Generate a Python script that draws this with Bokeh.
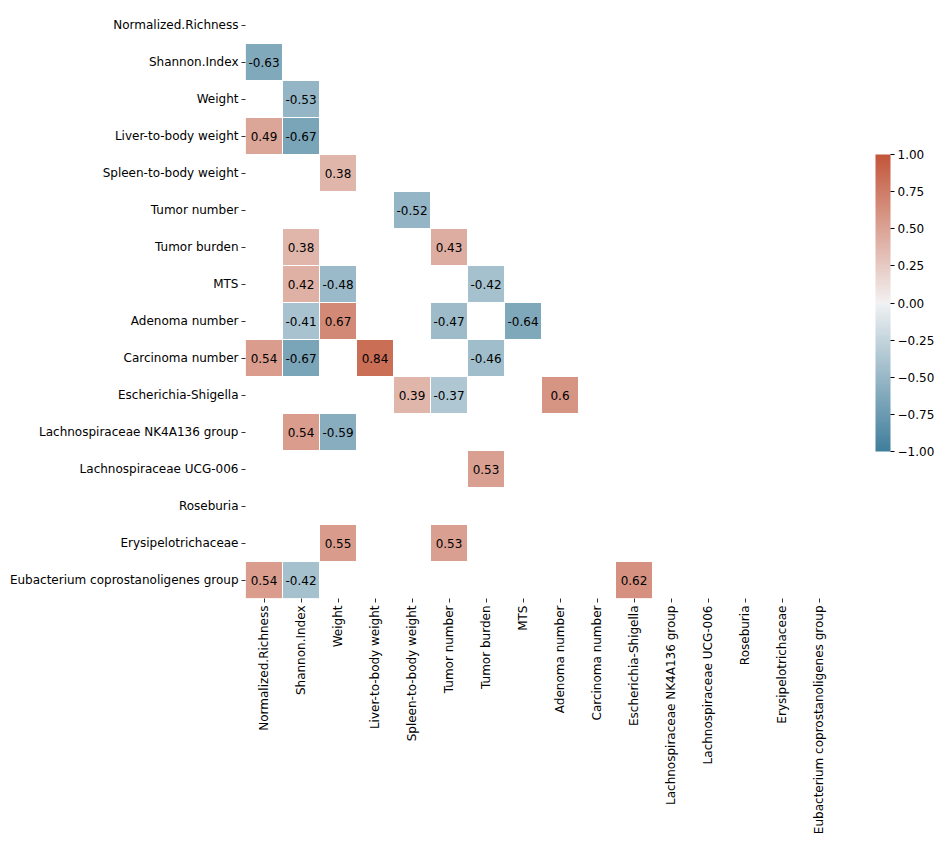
import math
from bokeh.plotting import figure
from bokeh.models import (ColumnDataSource, LinearColorMapper, ColorBar, FixedTicker,
                          CustomJSTickFormatter, FactorRange)
from bokeh.transform import transform
from bokeh.embed import file_html
from bokeh.resources import INLINE
from bokeh.core.properties import value

variables = ["Normalized.Richness", "Shannon.Index", "Weight", "Liver-to-body weight",
             "Spleen-to-body weight", "Tumor number", "Tumor burden", "MTS",
             "Adenoma number", "Carcinoma number", "Escherichia-Shigella",
             "Lachnospiraceae NK4A136 group", "Lachnospiraceae UCG-006", "Roseburia",
             "Erysipelotrichaceae", "Eubacterium coprostanoligenes group"]

cell_rows = ["Shannon.Index", "Weight", "Liver-to-body weight", "Liver-to-body weight",
             "Spleen-to-body weight", "Tumor number", "Tumor burden", "Tumor burden",
             "MTS", "MTS", "MTS",
             "Adenoma number", "Adenoma number", "Adenoma number", "Adenoma number",
             "Carcinoma number", "Carcinoma number", "Carcinoma number", "Carcinoma number",
             "Escherichia-Shigella", "Escherichia-Shigella", "Escherichia-Shigella",
             "Lachnospiraceae NK4A136 group", "Lachnospiraceae NK4A136 group",
             "Lachnospiraceae UCG-006",
             "Erysipelotrichaceae", "Erysipelotrichaceae",
             "Eubacterium coprostanoligenes group", "Eubacterium coprostanoligenes group",
             "Eubacterium coprostanoligenes group"]
cell_cols = ["Normalized.Richness", "Shannon.Index", "Normalized.Richness", "Shannon.Index",
             "Weight", "Spleen-to-body weight", "Shannon.Index", "Tumor number",
             "Shannon.Index", "Weight", "Tumor burden",
             "Shannon.Index", "Weight", "Tumor number", "MTS",
             "Normalized.Richness", "Shannon.Index", "Liver-to-body weight", "Tumor burden",
             "Spleen-to-body weight", "Tumor number", "Adenoma number",
             "Shannon.Index", "Weight",
             "Tumor burden",
             "Weight", "Tumor number",
             "Normalized.Richness", "Shannon.Index", "Escherichia-Shigella"]
cell_values = [-0.63, -0.53, 0.49, -0.67,
               0.38, -0.52, 0.38, 0.43,
               0.42, -0.48, -0.42,
               -0.41, 0.67, -0.47, -0.64,
               0.54, -0.67, 0.84, -0.46,
               0.39, -0.37, 0.60,
               0.54, -0.59,
               0.53,
               0.55, 0.53,
               0.54, -0.42, 0.62]

colorbar_ticks = [-1.0, -0.75, -0.5, -0.25, 0.0, 0.25, 0.5, 0.75, 1.0]

# ---- husl -> rgb (seaborn diverging_palette(230, 20)) ----
M = [[3.2406, -1.5372, -0.4986], [-0.9689, 1.8758, 0.0415], [0.0557, -0.2040, 1.0570]]
REF_U, REF_V, LAB_E, LAB_K = 0.19784, 0.46834, 0.008856, 903.3


def max_chroma(L, H):
    hrad = math.radians(H)
    sinH, cosH = math.sin(hrad), math.cos(hrad)
    sub1 = (L + 16) ** 3 / 1560896.0
    sub2 = sub1 if sub1 > LAB_E else L / LAB_K
    result = float("inf")
    for m1, m2, m3 in M:
        top = (0.99915 * m1 + 1.05122 * m2 + 1.14460 * m3) * sub2
        rbottom = 0.86330 * m3 - 0.17266 * m2
        lbottom = 0.12949 * m3 - 0.38848 * m1
        bottom = (rbottom * sinH + lbottom * cosH) * sub2
        for t in (0.0, 1.0):
            C = L * (top - 1.05122 * t) / (bottom + 0.17266 * sinH * t)
            if 0.0 < C < result:
                result = C
    return result


def husl_to_rgb(H, S, L):
    C = max_chroma(L, H) / 100.0 * S
    hrad = math.radians(H)
    U, V = math.cos(hrad) * C, math.sin(hrad) * C
    t = (L + 16) / 116.0
    varY = t ** 3 if t ** 3 > LAB_E else (116 * t - 16) / LAB_K
    varU = U / (13 * L) + REF_U
    varV = V / (13 * L) + REF_V
    Y = varY
    X = 0 - (9 * Y * varU) / ((varU - 4) * varV - varU * varV)
    Z = (9 * Y - 15 * varV * Y - varV * X) / (3 * varV)
    out = []
    for row in M:
        c = row[0] * X + row[1] * Y + row[2] * Z
        c = 12.92 * c if c <= 0.0031308 else 1.055 * c ** (1 / 2.4) - 0.055
        out.append(min(max(c, 0.0), 1.0))
    return out


neg_dark = husl_to_rgb(230, 75, 50)
neg_light = husl_to_rgb(230, 75 * 0.15, 95)
pos_dark = husl_to_rgb(20, 75, 50)
pos_light = husl_to_rgb(20, 75 * 0.15, 95)
mid = [0.95, 0.95, 0.95]
nodes = [(0.0, neg_dark), (127 / 256, neg_light), (128 / 256, mid),
         (129 / 256, pos_light), (1.0, pos_dark)]


def cmap(f):
    for (a, ca), (b, cb) in zip(nodes[:-1], nodes[1:]):
        if f <= b:
            w = (f - a) / (b - a) if b > a else 0
            return [ca[i] + (cb[i] - ca[i]) * w for i in range(3)]
    return nodes[-1][1]


palette = []
for i in range(256):
    r, g, b = cmap(i / 255)
    palette.append("#%02x%02x%02x" % (round(r * 255), round(g * 255), round(b * 255)))

src = ColumnDataSource(dict(row=cell_rows, col=cell_cols, val=cell_values,
                            label=[format(v, ".2g") for v in cell_values]))
mapper = LinearColorMapper(palette=palette, low=-1, high=1)

FONT = "DejaVu Sans"
p = figure(x_range=FactorRange(*variables), y_range=FactorRange(*variables[::-1]),
           frame_width=592, frame_height=592, width=938, height=840,
           min_border_left=245, min_border_top=6, min_border_right=101, min_border_bottom=242,
           output_backend="svg", toolbar_location=None, tools="")

p.rect(x="col", y="row", width=1, height=1, source=src,
       fill_color=transform("val", mapper), line_color="white", line_width=1)
p.text(x="col", y="row", text="label", source=src, text_align="center",
       text_baseline="middle", text_font=value(FONT), text_font_size="12px",
       text_color="black")

p.outline_line_color = None
p.grid.grid_line_color = None
for ax in (p.xaxis, p.yaxis):
    ax.axis_line_color = None
    ax.major_tick_in = 0
    ax.major_tick_out = 4
    ax.major_tick_line_color = "#333333"
    ax.minor_tick_line_color = None
    ax.major_label_text_font = FONT
    ax.major_label_text_font_size = "12px"
    ax.major_label_text_color = "black"
    ax.major_label_standoff = 3
p.xaxis.major_label_orientation = math.pi / 2

cb = ColorBar(color_mapper=mapper, width=15, height=297, location=(630, 147),
              padding=0, margin=0, background_fill_alpha=0, border_line_color=None,
              bar_line_color=None, ticker=FixedTicker(ticks=colorbar_ticks),
              formatter=CustomJSTickFormatter(
                  code="return (tick < 0 ? '\u2212' : '') + Math.abs(tick).toFixed(2);"),
              major_tick_in=0, major_tick_out=4, major_tick_line_color="black",
              minor_tick_line_color=None, label_standoff=3,
              major_label_text_font=FONT, major_label_text_font_size="12px",
              major_label_text_color="black")
p.add_layout(cb)

open("out.html", "w").write(file_html(p, INLINE))
